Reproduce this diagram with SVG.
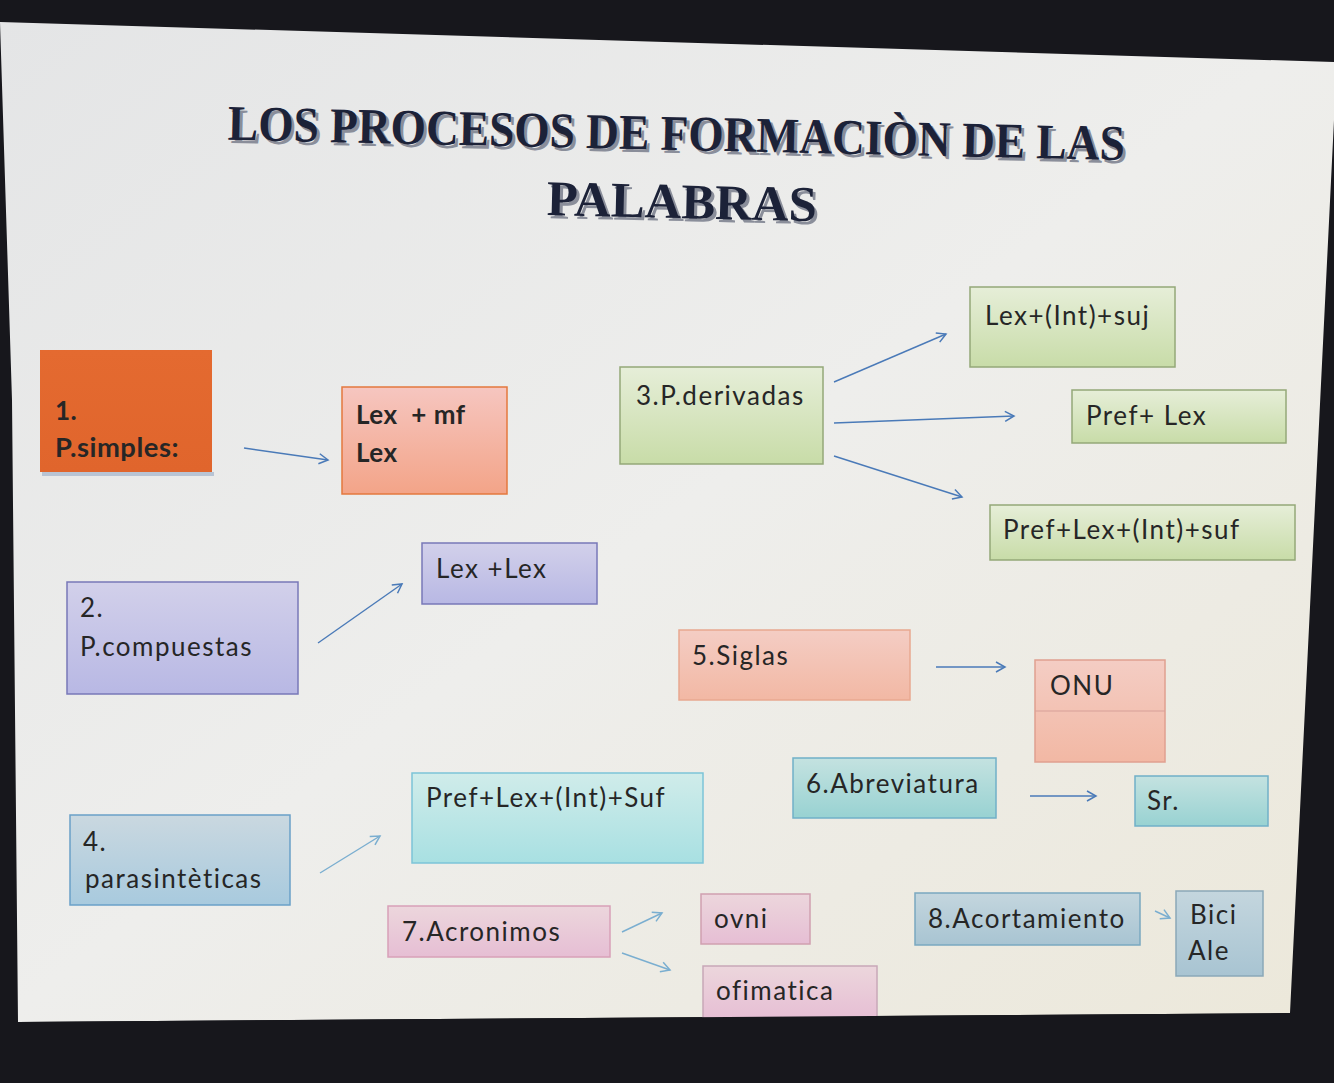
<svg xmlns="http://www.w3.org/2000/svg" width="1334" height="1083" viewBox="0 0 1334 1083">
<defs>
<linearGradient id="scr" x1="0" y1="0" x2="1" y2="1">
<stop offset="0" stop-color="#e4e5e6"/>
<stop offset="0.5" stop-color="#eeeeec"/>
<stop offset="1" stop-color="#ece8da"/>
</linearGradient>
<linearGradient id="gOr" x1="0" y1="0" x2="0" y2="1"><stop offset="0" stop-color="#e46a30"/><stop offset="1" stop-color="#e0652c"/></linearGradient>
<linearGradient id="gSal" x1="0" y1="0" x2="0" y2="1"><stop offset="0" stop-color="#f6c6c0"/><stop offset="1" stop-color="#f3a488"/></linearGradient>
<linearGradient id="gGr" x1="0" y1="0" x2="0" y2="1"><stop offset="0" stop-color="#e6eed8"/><stop offset="1" stop-color="#c8dca8"/></linearGradient>
<linearGradient id="gLav" x1="0" y1="0" x2="0" y2="1"><stop offset="0" stop-color="#d2d0ea"/><stop offset="1" stop-color="#b8b8e4"/></linearGradient>
<linearGradient id="gPk" x1="0" y1="0" x2="0" y2="1"><stop offset="0" stop-color="#f4cdc4"/><stop offset="1" stop-color="#f2b8a4"/></linearGradient>
<linearGradient id="gTeal" x1="0" y1="0" x2="0" y2="1"><stop offset="0" stop-color="#c4e2e0"/><stop offset="1" stop-color="#98d2d2"/></linearGradient>
<linearGradient id="gCy" x1="0" y1="0" x2="0" y2="1"><stop offset="0" stop-color="#d0ecea"/><stop offset="1" stop-color="#a8e0e2"/></linearGradient>
<linearGradient id="gBl" x1="0" y1="0" x2="0" y2="1"><stop offset="0" stop-color="#cad8e0"/><stop offset="1" stop-color="#a8cade"/></linearGradient>
<linearGradient id="gMag" x1="0" y1="0" x2="0" y2="1"><stop offset="0" stop-color="#ecd6dc"/><stop offset="1" stop-color="#e6bed4"/></linearGradient>
<linearGradient id="gGb" x1="0" y1="0" x2="0" y2="1"><stop offset="0" stop-color="#c4d6de"/><stop offset="1" stop-color="#a8c4d2"/></linearGradient>
<marker id="ah" markerWidth="12" markerHeight="12" refX="10" refY="6" orient="auto" markerUnits="userSpaceOnUse">
<path d="M1,1 L10,6 L1,11" fill="none" stroke="#4a7ab8" stroke-width="1.5"/>
</marker>
<marker id="ahl" markerWidth="12" markerHeight="12" refX="10" refY="6" orient="auto" markerUnits="userSpaceOnUse">
<path d="M1,1 L10,6 L1,11" fill="none" stroke="#7aaed0" stroke-width="1.5"/>
</marker>
</defs>
<style>
.t{font-family:Lato,"Open Sans","Liberation Sans",sans-serif;font-size:26px;fill:#262626;letter-spacing:1.5px}
.b{font-weight:bold;letter-spacing:0.5px}
.title{font-family:"Liberation Serif","DejaVu Serif",serif;font-weight:bold;font-size:50px;fill:#1c2238}
.ts{font-family:"Liberation Serif","DejaVu Serif",serif;font-weight:bold;font-size:50px;fill:#8a8e9a}
.box{stroke-width:1.5}
.c{fill:none;stroke:#4a7ab8;stroke-width:1.4}
.cl{fill:none;stroke:#7aaed0;stroke-width:1.4}
</style>
<rect x="0" y="0" width="1334" height="1083" fill="#17171c"/>
<polygon points="0,22 1334,62 1334,120 1290,1013 18,1022 12,400" fill="url(#scr)"/>
<g id="title">
<g transform="rotate(1.3 676 150)">
<text class="ts" x="679" y="153" text-anchor="middle" textLength="897" lengthAdjust="spacingAndGlyphs">LOS PROCESOS DE FORMACIÒN DE LAS</text>
<text class="title" x="676" y="150" text-anchor="middle" textLength="897" lengthAdjust="spacingAndGlyphs">LOS PROCESOS DE FORMACIÒN DE LAS</text>
<text class="ts" x="686" y="221" text-anchor="middle" textLength="270" lengthAdjust="spacingAndGlyphs">PALABRAS</text>
<text class="title" x="683" y="218" text-anchor="middle" textLength="270" lengthAdjust="spacingAndGlyphs">PALABRAS</text>
</g>
</g>
<g id="connectors">
<line class="c" x1="244" y1="448" x2="328" y2="460" marker-end="url(#ah)"/>
<line class="c" x1="834" y1="382" x2="946" y2="334" marker-end="url(#ah)"/>
<line class="c" x1="834" y1="423" x2="1014" y2="416" marker-end="url(#ah)"/>
<line class="c" x1="834" y1="456" x2="962" y2="497" marker-end="url(#ah)"/>
<line class="c" x1="318" y1="643" x2="402" y2="584" marker-end="url(#ah)"/>
<line class="c" x1="936" y1="667" x2="1005" y2="667" marker-end="url(#ah)"/>
<line class="c" x1="1030" y1="796" x2="1096" y2="796" marker-end="url(#ah)"/>
<line class="cl" x1="320" y1="873" x2="380" y2="836" marker-end="url(#ahl)"/>
<line class="cl" x1="622" y1="932" x2="662" y2="913" marker-end="url(#ahl)"/>
<line class="cl" x1="622" y1="953" x2="670" y2="970" marker-end="url(#ahl)"/>
<line class="cl" x1="1155" y1="911" x2="1170" y2="918" marker-end="url(#ahl)"/>
</g>
<g id="n1">
<rect x="42" y="472" width="172" height="4" fill="#b8c4d4"/>
<rect x="40" y="350" width="172" height="122" fill="url(#gOr)"/>
<text class="t b" x="55" y="420">1.</text>
<text class="t b" x="55" y="457" textLength="124" lengthAdjust="spacingAndGlyphs">P.simples:</text>
</g>
<g id="n1a">
<rect class="box" x="342" y="387" width="165" height="107" fill="url(#gSal)" stroke="#e4783e"/>
<text class="t b" x="356" y="424" xml:space="preserve">Lex  + mf</text>
<text class="t b" x="356" y="462">Lex</text>
</g>
<g id="n3">
<rect class="box" x="620" y="367" width="203" height="97" fill="url(#gGr)" stroke="#94a878"/>
<text class="t" x="636" y="405">3.P.derivadas</text>
</g>
<g id="n3a">
<rect class="box" x="970" y="287" width="205" height="80" fill="url(#gGr)" stroke="#94a878"/>
<text class="t" x="985" y="325">Lex+(Int)+suj</text>
</g>
<g id="n3b">
<rect class="box" x="1072" y="390" width="214" height="53" fill="url(#gGr)" stroke="#94a878"/>
<text class="t" x="1086" y="425">Pref+ Lex</text>
</g>
<g id="n3c">
<rect class="box" x="990" y="505" width="305" height="55" fill="url(#gGr)" stroke="#94a878"/>
<text class="t" x="1003" y="539">Pref+Lex+(Int)+suf</text>
</g>
<g id="n2">
<rect class="box" x="67" y="582" width="231" height="112" fill="url(#gLav)" stroke="#7878b8"/>
<text class="t" x="80" y="617">2.</text>
<text class="t" x="80" y="656">P.compuestas</text>
</g>
<g id="n2a">
<rect class="box" x="422" y="543" width="175" height="61" fill="url(#gLav)" stroke="#7878b8"/>
<text class="t" x="436" y="578">Lex +Lex</text>
</g>
<g id="n5">
<rect class="box" x="679" y="630" width="231" height="70" fill="url(#gPk)" stroke="#e8a890"/>
<text class="t" x="692" y="665">5.Siglas</text>
</g>
<g id="n5a">
<rect class="box" x="1035" y="660" width="130" height="102" fill="url(#gPk)" stroke="#e0a090"/>
<line x1="1035" y1="711" x2="1165" y2="711" stroke="#d8a098" stroke-width="1.2"/>
<text class="t" x="1050" y="695">ONU</text>
</g>
<g id="n6">
<rect class="box" x="793" y="758" width="203" height="60" fill="url(#gTeal)" stroke="#70b0c8"/>
<text class="t" x="806" y="793">6.Abreviatura</text>
</g>
<g id="n6a">
<rect class="box" x="1135" y="776" width="133" height="50" fill="url(#gTeal)" stroke="#70b0c8"/>
<text class="t" x="1147" y="810">Sr.</text>
</g>
<g id="n4">
<rect class="box" x="70" y="815" width="220" height="90" fill="url(#gBl)" stroke="#6aa0c8"/>
<text class="t" x="83" y="851">4.</text>
<text class="t" x="85" y="888">parasintèticas</text>
</g>
<g id="n4a">
<rect class="box" x="412" y="773" width="291" height="90" fill="url(#gCy)" stroke="#7cc4d8"/>
<text class="t" x="426" y="807">Pref+Lex+(Int)+Suf</text>
</g>
<g id="n7">
<rect class="box" x="388" y="906" width="222" height="51" fill="url(#gMag)" stroke="#d8a0b8"/>
<text class="t" x="402" y="941">7.Acronimos</text>
</g>
<g id="n7a">
<rect class="box" x="701" y="894" width="109" height="50" fill="url(#gMag)" stroke="#d0a0b0"/>
<text class="t" x="714" y="928">ovni</text>
</g>
<g id="n7b">
<rect class="box" x="703" y="966" width="174" height="54" fill="url(#gMag)" stroke="#c8a8b8"/>
<text class="t" x="716" y="1000">ofimatica</text>
</g>
<g id="n8">
<rect class="box" x="915" y="893" width="225" height="52" fill="url(#gGb)" stroke="#7aa8c0"/>
<text class="t" x="928" y="928">8.Acortamiento</text>
</g>
<g id="n8a">
<rect class="box" x="1176" y="891" width="87" height="85" fill="url(#gGb)" stroke="#8aa8b8"/>
<text class="t" x="1190" y="924">Bici</text>
<text class="t" x="1188" y="960">Ale</text>
</g>
<polygon points="0,1022 18,1022 1290,1013 1334,1013 1334,1083 0,1083" fill="#17171c"/>
</svg>
